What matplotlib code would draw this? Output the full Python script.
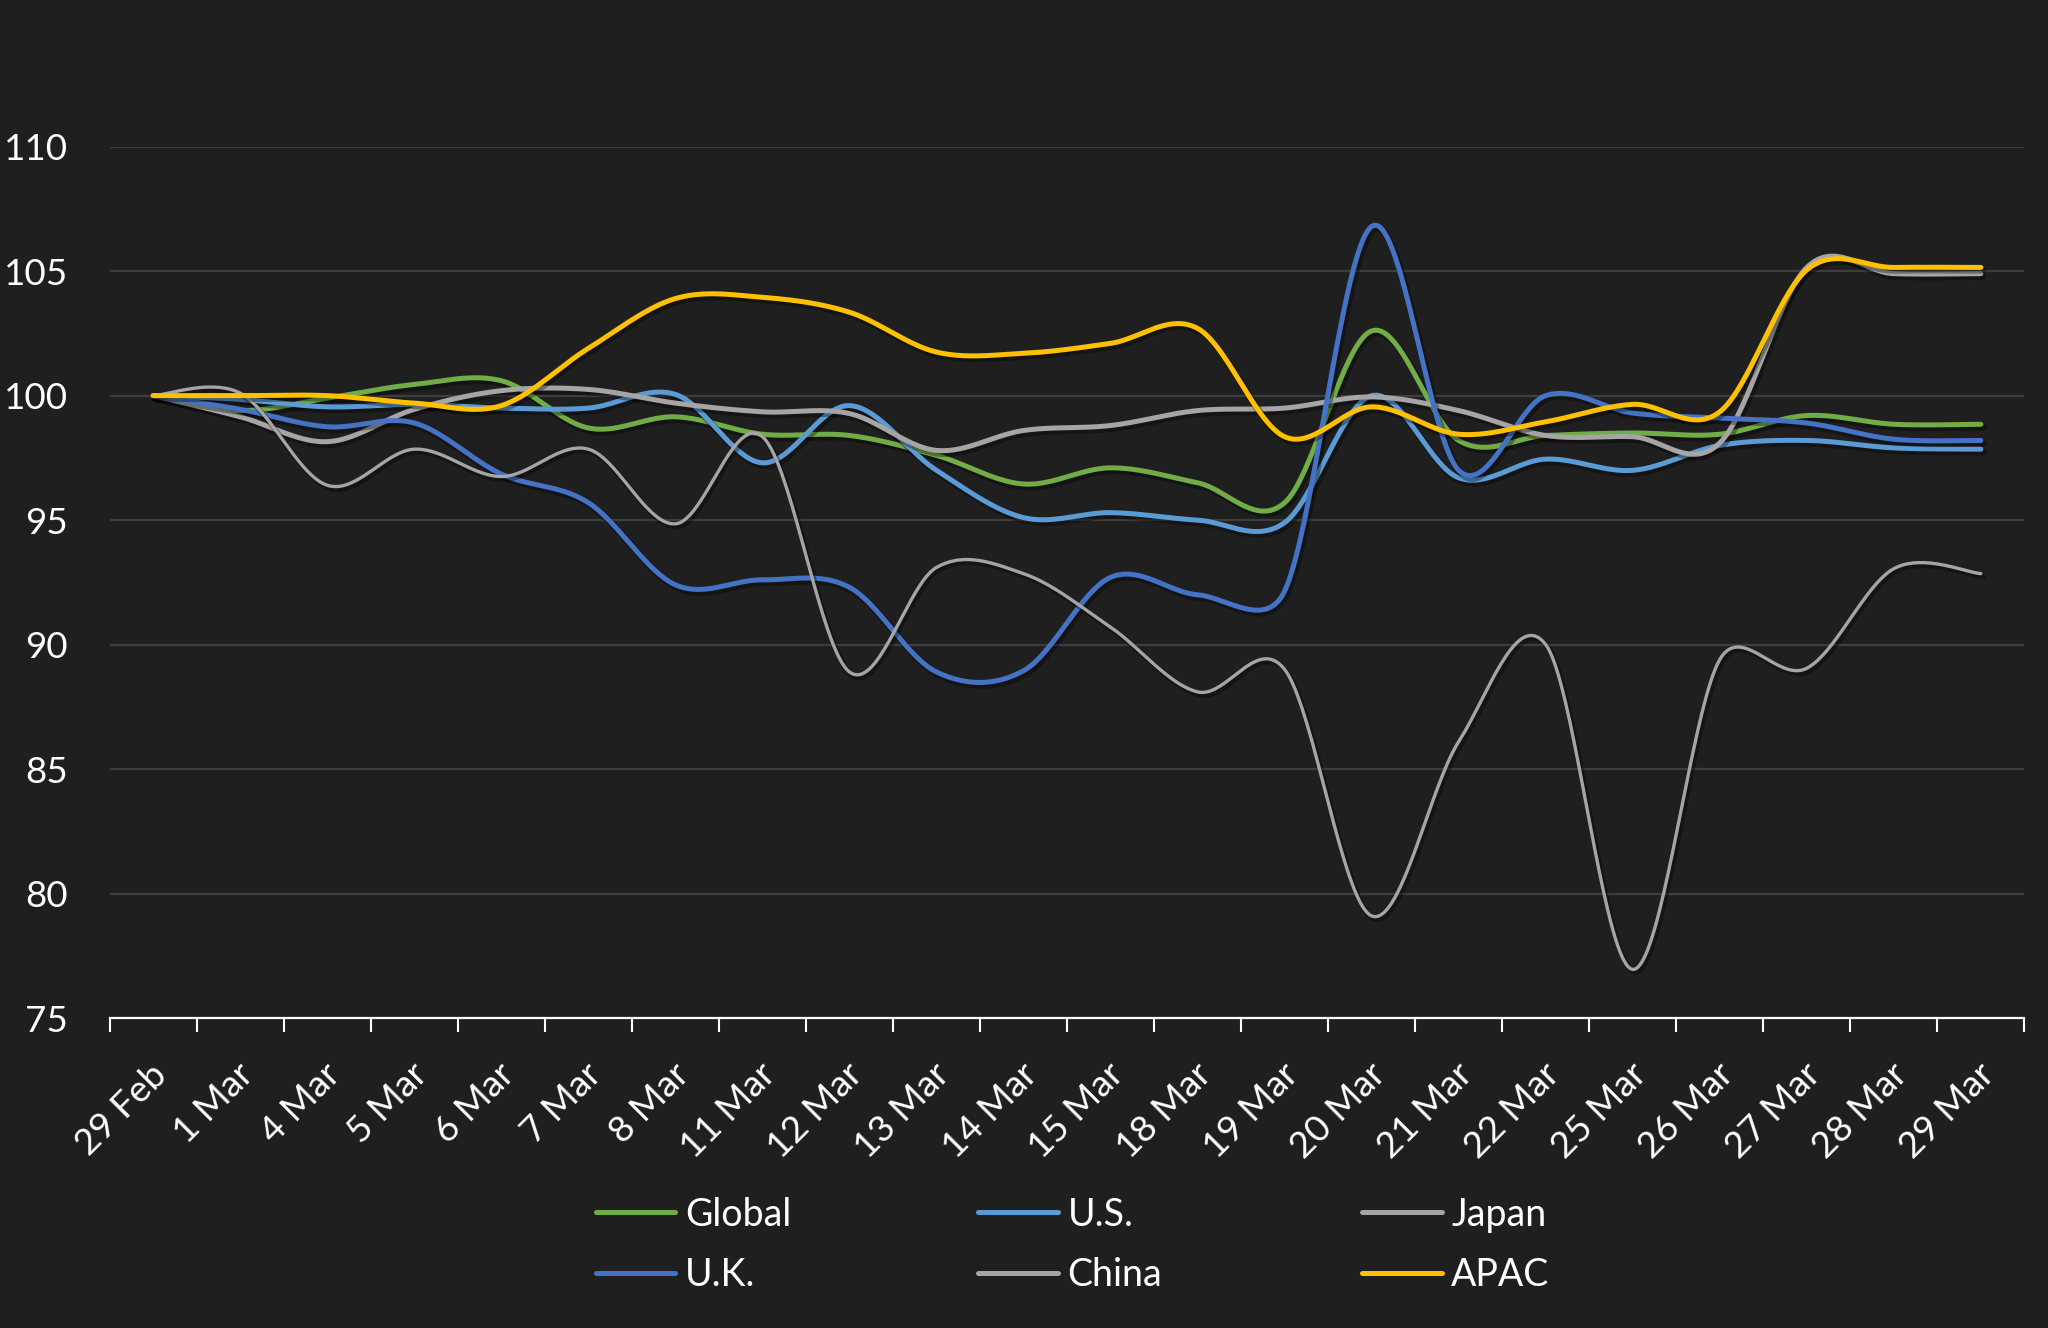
import numpy as np
import matplotlib
matplotlib.use("Agg")
import matplotlib.pyplot as plt
import matplotlib.patheffects as pe
from matplotlib.lines import Line2D
from matplotlib.transforms import ScaledTranslation

# ---------------- data ----------------
dates = ["29 Feb", "1 Mar", "4 Mar", "5 Mar", "6 Mar", "7 Mar", "8 Mar", "11 Mar",
         "12 Mar", "13 Mar", "14 Mar", "15 Mar", "18 Mar", "19 Mar", "20 Mar",
         "21 Mar", "22 Mar", "25 Mar", "26 Mar", "27 Mar", "28 Mar", "29 Mar"]

global_idx = [100, 99.4, 99.9, 100.45, 100.6, 98.7, 99.15, 98.45, 98.4, 97.6, 96.45,
              97.1, 96.5, 95.7, 102.6, 98.2, 98.4, 98.5, 98.45, 99.2, 98.85, 98.85]
us_idx = [100, 99.85, 99.55, 99.65, 99.5, 99.5, 100.05, 97.3, 99.6, 97.0, 95.1,
          95.3, 95.0, 94.9, 100.0, 96.7, 97.45, 97.0, 98.0, 98.2, 97.9, 97.85]
japan_idx = [100, 99.15, 98.15, 99.45, 100.2, 100.25, 99.7, 99.35, 99.28, 97.8, 98.6,
             98.8, 99.4, 99.5, 99.95, 99.4, 98.4, 98.35, 98.1, 105.15, 104.9, 104.9]
uk_idx = [100, 99.45, 98.75, 98.9, 96.85, 95.7, 92.4, 92.6, 92.3, 88.9, 88.95,
          92.7, 92.0, 92.15, 106.8, 97.0, 100.0, 99.3, 99.1, 98.9, 98.25, 98.2]
china_idx = [100, 100.1, 96.4, 97.85, 96.75, 97.85, 94.85, 98.35, 88.9, 93.1, 92.85,
             90.7, 88.1, 89.0, 79.1, 86.1, 90.0, 76.95, 89.4, 89.05, 93.05, 92.85]
apac_idx = [100, 100.0, 100.0, 99.7, 99.6, 101.9, 103.9, 103.95, 103.35, 101.75, 101.7,
            102.1, 102.7, 98.35, 99.55, 98.45, 98.95, 99.65, 99.35, 105.05, 105.15, 105.15]

series_names = ["Global", "U.S.", "Japan", "U.K.", "China", "APAC"]
series_values = [global_idx, us_idx, japan_idx, uk_idx, china_idx, apac_idx]
series_colors = ["#70AD47", "#5B9BD5", "#A5A5A5", "#4472C4", "#A5A5A5", "#FFC000"]
series_widths = [3.6, 3.6, 3.6, 3.6, 2.4, 3.6]

y_ticks = [75, 80, 85, 90, 95, 100, 105, 110]

# ---------------- style ----------------
BG = "#1F1F1F"
GRID = "#3D3D3D"
FONT = ["Lato", "DejaVu Sans"]
FS = 26.5
plt.rcParams["font.family"] = FONT

W, H = 2048, 1328
fig = plt.figure(figsize=(W / 100, H / 100), dpi=100, facecolor=BG)
left, right = 109.7 / W, 2024.4 / W
bottom, top = 1 - 1018.0 / H, 1 - 146.7 / H
ax = fig.add_axes([left, bottom, right - left, top - bottom], facecolor=BG)

x = np.arange(len(dates))
ax.set_xlim(-0.5, len(dates) - 0.5)
ax.set_ylim(75, 110)


def excel_smooth(xs, ys, axis, n=40):
    """Excel-like smoothed line: cubic Bezier segments, control arms f=1/6,
    capped at half of the segment length (computed in display space)."""
    P = axis.transData.transform(np.column_stack([xs, ys]))
    N = len(P)
    pts = [P[0]]
    t = np.linspace(0, 1, n)[1:][:, None]
    for i in range(N - 1):
        p0 = P[i - 1] if i > 0 else P[i]
        p1, p2 = P[i], P[i + 1]
        p3 = P[i + 2] if i + 2 < N else P[i + 1]
        d12 = np.linalg.norm(p2 - p1)
        d02 = np.linalg.norm(p2 - p0)
        d13 = np.linalg.norm(p3 - p1)
        f = 1.0 / 6.0
        v1 = (p2 - p0) * f
        if d02 * f > d12 / 2 and d02 > 0:
            v1 = (p2 - p0) * (d12 / 2 / d02)
        v2 = (p3 - p1) * f
        if d13 * f > d12 / 2 and d13 > 0:
            v2 = (p3 - p1) * (d12 / 2 / d13)
        c1, c2 = p1 + v1, p2 - v2
        B = ((1 - t) ** 3) * p1 + 3 * ((1 - t) ** 2) * t * c1 + 3 * (1 - t) * t ** 2 * c2 + t ** 3 * p2
        pts.extend(B)
    pts = np.array(pts)
    D = axis.transData.inverted().transform(pts)
    return D[:, 0], D[:, 1]


# grid
for yv in y_ticks[1:]:
    ax.axhline(yv, color=GRID, lw=1.6, zorder=1)

handles = {}
for name, vals, col, lw in zip(series_names, series_values, series_colors, series_widths):
    sx, sy = excel_smooth(x, vals, ax)
    ax.plot(sx, sy, color=col, lw=lw, solid_capstyle="round", zorder=3,
            path_effects=[pe.SimpleLineShadow(offset=(1.5, -2), shadow_color="black",
                                              alpha=0.35, linewidth=lw + 1.5),
                          pe.Normal()])
    handles[name] = Line2D([0], [0], color=col, lw=3.6, solid_capstyle="round")

# axes styling
for s in ["top", "right", "left"]:
    ax.spines[s].set_visible(False)
ax.spines["bottom"].set_color("white")
ax.spines["bottom"].set_linewidth(1.6)
ax.spines["bottom"].set_zorder(4)

ax.set_yticks(y_ticks)
ax.set_yticklabels([str(v) for v in y_ticks])
ax.tick_params(axis="y", length=0, pad=30, labelsize=FS, labelcolor="white")

ax.set_xticks(x)
ax.set_xticklabels(dates)
ax.set_xticks(np.arange(-0.5, len(dates), 1.0), minor=True)
ax.tick_params(axis="x", which="major", length=0, pad=37, labelsize=FS, labelcolor="white")
ax.tick_params(axis="x", which="minor", length=10, width=1.5, color="white", direction="out")
offset = ScaledTranslation(0.08, 0, fig.dpi_scale_trans)
for lab in ax.get_xticklabels():
    lab.set_rotation(45)
    lab.set_ha("right")
    lab.set_va("center")
    lab.set_rotation_mode("anchor")
    lab.set_transform(lab.get_transform() + offset)

# legend: 2 rows x 3 columns, placed per entry
leg_layout = [("Global", 595.6, 1214.6), ("U.S.", 978.2, 1214.6), ("Japan", 1362.0, 1214.6),
              ("U.K.", 595.6, 1274.7), ("China", 978.2, 1274.7), ("APAC", 1362.0, 1274.7)]
for name, lx, ly in leg_layout:
    fig.legend(handles=[handles[name]], labels=[name], loc="center left",
               bbox_to_anchor=(lx / W, 1 - ly / H), frameon=False, fontsize=27,
               labelcolor="white", handlelength=2.13, handletextpad=0.25,
               borderpad=0, borderaxespad=0)

fig.savefig("out.png", dpi=100, facecolor=BG)
